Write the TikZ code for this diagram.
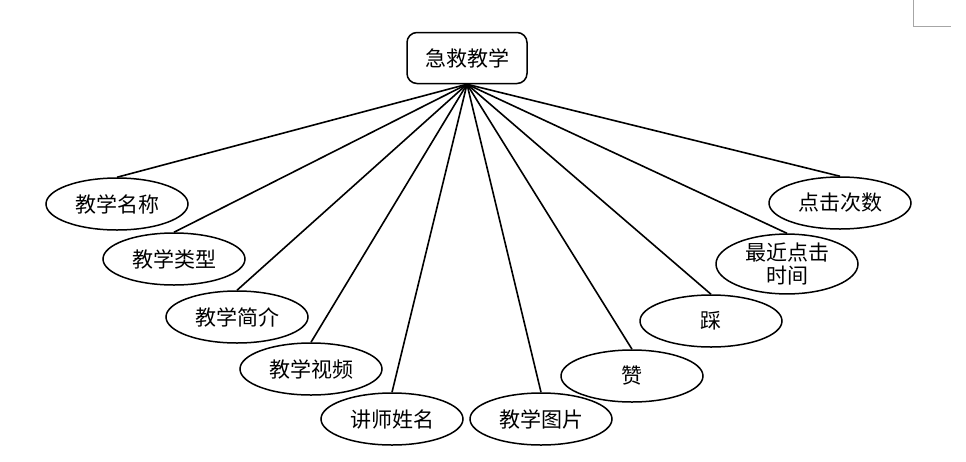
\documentclass[tikz,border=0pt]{standalone}
\usepackage{fontspec}
\setmainfont{Noto Sans CJK SC}
\usetikzlibrary{shapes.geometric}

\begin{document}
\begin{tikzpicture}[x=1pt,y=-1pt,
	attr/.style={draw,ellipse,line width=1.5pt,minimum width=142pt,minimum height=52pt,inner sep=0pt,align=center,font=\fontsize{21}{23}\selectfont},
	entity/.style={draw,rounded corners=10pt,line width=1.5pt,minimum width=120pt,minimum height=51pt,font=\fontsize{21}{23}\selectfont},
	link/.style={line width=1.6pt}]
	\useasboundingbox (0,0) rectangle (966,461);
	%%% page corner mark
	\draw[gray!70,line width=1pt] (913,0) -- (913,26) -- (951,26);
	\node[entity](jx) at (467,58) {急救教学};
	%%% left side
	\node[attr](mc) at (117,204) {教学名称};
	\node[attr](lx) at (174,259) {教学类型};
	\node[attr](jj) at (237,317) {教学简介};
	\node[attr](sp) at (311,369) {教学视频};
	\node[attr](js) at (392,419) {讲师姓名};
	%%% right side
	\node[attr](tp) at (541,419) {教学图片};
	\node[attr](zan) at (632,376) {赞};
	\node[attr](cai) at (711,321) {踩};
	\node[attr](sj) at (787,264) {最近点击\\时间};
	\node[attr](cs) at (840,203) {点击次数};
	
	\draw[link] (jx.south) -- (mc.north);
	\draw[link] (jx.south) -- (lx.north);
	\draw[link] (jx.south) -- (jj.north);
	\draw[link] (jx.south) -- (sp.north);
	\draw[link] (jx.south) -- (js.north);
	\draw[link] (jx.south) -- (tp.north);
	\draw[link] (jx.south) -- (zan.north);
	\draw[link] (jx.south) -- (cai.north);
	\draw[link] (jx.south) -- (sj.north);
	\draw[link] (jx.south) -- (cs.north);
\end{tikzpicture}
\end{document}
